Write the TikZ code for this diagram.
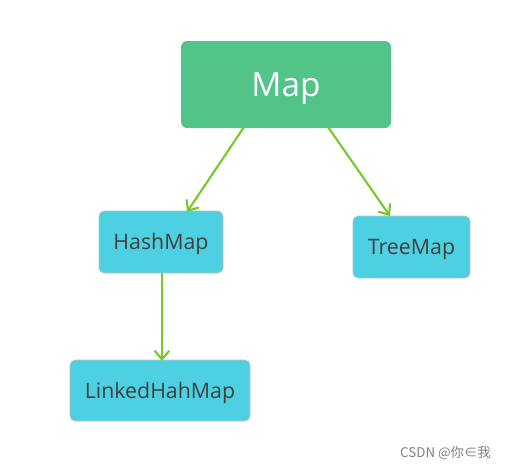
\documentclass[tikz,border=0pt]{standalone}
\usepackage{fontspec}
\setmainfont{Open Sans}
\newfontfamily\cjk{Noto Sans CJK SC}
\usetikzlibrary{arrows.meta}
\definecolor{mapgreen}{HTML}{52C48A}
\definecolor{subblue}{HTML}{4DD0E1}
\definecolor{edgegrey}{HTML}{BDBDBD}
\definecolor{arrowgreen}{HTML}{76C82E}
\definecolor{txtgrey}{HTML}{3F3F3F}
\tikzset{
  rootbox/.style={rectangle, rounded corners=4.5pt, fill=mapgreen, draw=none,
    text=white, font=\fontsize{25}{30}\selectfont, inner sep=0pt, text height=17.9pt, text depth=0pt},
  childbox/.style={rectangle, rounded corners=4pt, fill=subblue, draw=edgegrey, line width=0.6pt,
    text=txtgrey, font=\fontsize{16}{19}\selectfont, inner sep=0pt, text height=11.6pt, text depth=0pt},
  link/.style={draw=arrowgreen, line width=1.6pt, -{Straight Barb[length=6.5pt,width=11pt,line width=1.6pt]}}
}
\begin{document}
\begin{tikzpicture}[x=0.75pt,y=-0.75pt]
\useasboundingbox (0,0) rectangle (506,469);
\node[rootbox, minimum width=157.5pt, minimum height=65.25pt] (map) at (286,84.5) {Map};
\node[childbox, minimum width=93pt, minimum height=46.5pt] (hash) at (161,242) {HashMap};
\node[childbox, minimum width=87.75pt, minimum height=46.5pt] (tree) at (411.5,247) {TreeMap};
\node[childbox, minimum width=135pt, minimum height=45.75pt] (linked) at (160,390.5) {LinkedHahMap};
\coordinate (m1) at (244,127);
\coordinate (m2) at (328,127);
\coordinate (h1) at (187,212);
\coordinate (t1) at (390,216);
\coordinate (hb) at (162,273);
\coordinate (lt) at (162,361);
\draw[link] (m1) -- (h1);
\draw[link] (m2) -- (t1);
\draw[link] (hb) -- (lt);
\node[text=gray, font=\cjk\fontsize{10}{12}\selectfont, anchor=east, inner sep=0pt] (wm) at (491,453) {CSDN @你∈我};
\end{tikzpicture}
\end{document}
